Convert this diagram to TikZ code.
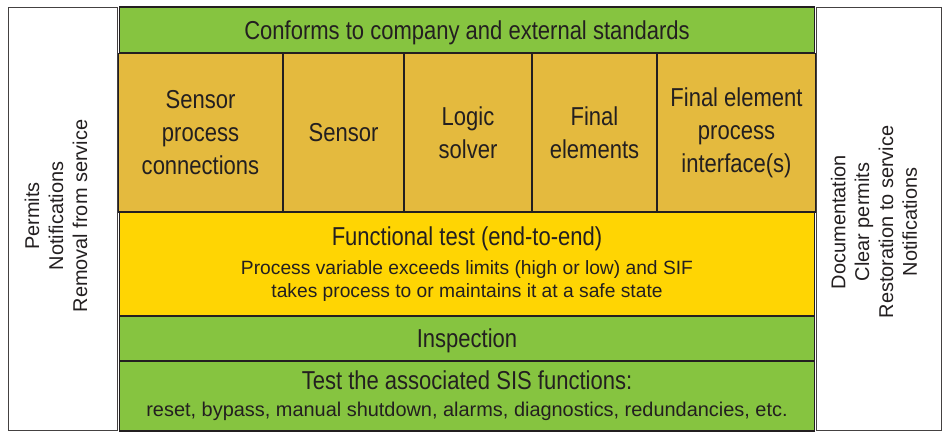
\documentclass[tikz,border=0pt]{standalone}
\usepackage{fontspec}
\setmainfont{Liberation Sans}
\newfontfamily\condfont{Liberation Sans}[FakeStretch=0.85]
\usepackage{tikz}
\definecolor{boxgreen}{RGB}{134,196,64}
\definecolor{boxorange}{RGB}{228,186,62}
\definecolor{boxyellow}{RGB}{255,213,3}
\definecolor{inkdark}{RGB}{35,31,32}
\tikzset{
	greenstyle/.style={rectangle,draw=inkdark,fill=boxgreen,line width=1.4pt,inner sep=0,text=inkdark,align=center},
	orangestyle/.style={rectangle,draw=inkdark,fill=boxorange,line width=1.4pt,inner sep=0,text=inkdark,align=center,font=\condfont\fontsize{26}{33}\selectfont},
	yellowstyle/.style={rectangle,draw=inkdark,fill=boxyellow,line width=1.4pt,inner sep=0,text=inkdark,align=center},
	sidestyle/.style={rectangle,draw=inkdark!85,fill=white,line width=1.4pt,inner sep=0},
	sidetext/.style={rotate=90,align=center,text=inkdark,inner sep=0,font=\normalfont\fontsize{20}{24}\selectfont}
}

\begin{document}
\begin{tikzpicture}[x=1bp,y=1bp]
	\useasboundingbox (0,0) rectangle (950,441);
	\fill[white] (0,0) rectangle (950,441);
	% side columns
	\node[sidestyle,minimum width=110,minimum height=424] (left) at (63,222) {};
	\node[sidestyle,minimum width=126,minimum height=424] (right) at (879,222) {};
	\node[sidetext] (permtext) at (56,225) {Permits\\Notifications\\Removal from service};
	\node[sidetext] (doctext) at (874,219) {Documentation\\Clear permits\\Restoration to service\\Notifications};
	% rows
	\node[greenstyle,minimum width=698,minimum height=46,text depth=0,font=\condfont\fontsize{26}{30}\selectfont] (conform) at (467,411) {Conforms to company and external standards};
	\node[orangestyle,minimum width=165,minimum height=159.5] (sensorconn) at (200.5,308.25) {Sensor\\process\\connections};
	\node[orangestyle,minimum width=121,minimum height=159.5] (sensor) at (343.5,308.25) {Sensor};
	\node[orangestyle,minimum width=128,minimum height=159.5] (logic) at (468,308.25) {Logic\\solver};
	\node[orangestyle,minimum width=125,minimum height=159.5] (final) at (594.5,308.25) {Final\\elements};
	\node[orangestyle,minimum width=159,minimum height=159.5] (interface) at (736.5,308.25) {Final element\\process\\interface(s)};
	\node[yellowstyle,minimum width=698,minimum height=103.5,font=\fontsize{19.3}{23}\selectfont] (functest) at (467,176.75) {{\condfont\fontsize{26}{30}\selectfont Functional test (end-to-end)}\\[6pt]
		Process variable exceeds limits (high or low) and SIF\\
		takes process to or maintains it at a safe state};
	\node[greenstyle,minimum width=698,minimum height=45,text depth=0,font=\condfont\fontsize{26}{30}\selectfont] (inspect) at (467,102.5) {Inspection};
	\node[greenstyle,minimum width=698,minimum height=70,font=\fontsize{20}{24}\selectfont] (sistest) at (467,45) {{\condfont\fontsize{26}{30}\selectfont Test the associated SIS functions:}\\[3pt]
		reset, bypass, manual shutdown, alarms, diagnostics, redundancies, etc.};
\end{tikzpicture}
\end{document}
